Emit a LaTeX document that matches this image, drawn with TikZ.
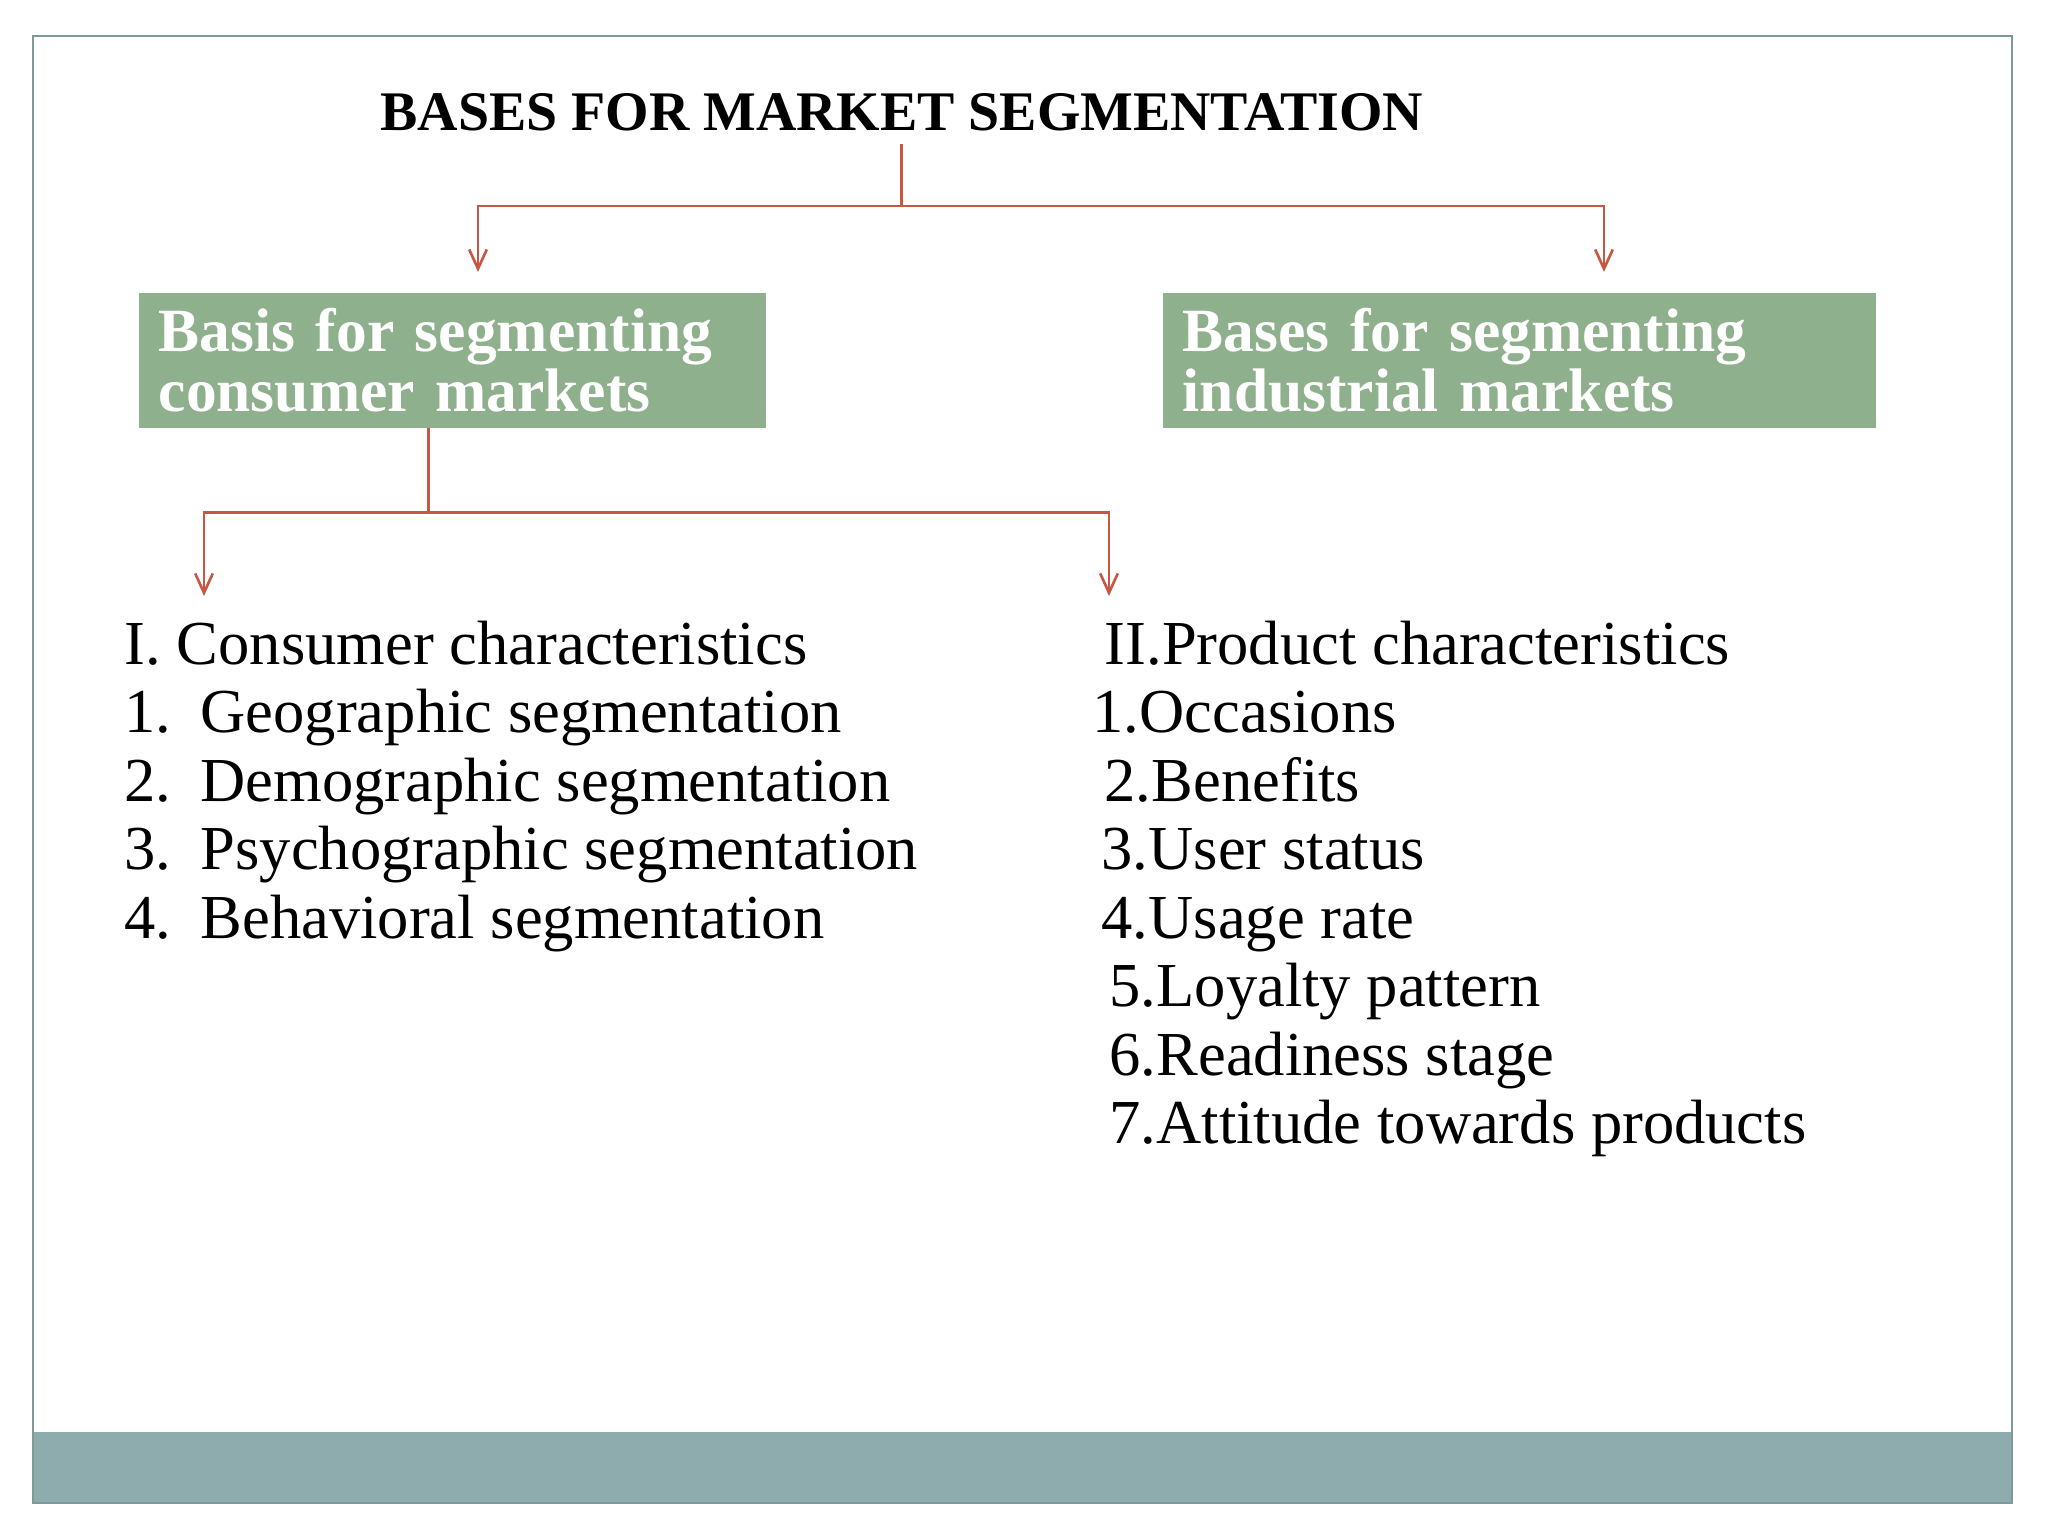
\documentclass[tikz,border=0pt]{standalone}
\usepackage{fontspec}
\setmainfont{Liberation Serif}
\newfontfamily\boxfont[WordSpace=0.8]{Liberation Serif}
\usetikzlibrary{arrows.meta}
\usetikzlibrary{positioning,calc}
\definecolor{linkred}{HTML}{C75742}
\definecolor{boxgreen}{HTML}{8FB08C}
\definecolor{framegray}{HTML}{7D9A96}
\definecolor{barteal}{HTML}{8EABAD}
\tikzset{
    link/.style={
        draw=linkred,
        line width=0.75pt
    },
    down/.style={
        link,
        -{Straight Barb[length=5.5pt, width=5pt]}
    },
    basebox/.style={
        fill=boxgreen,
        text=white,
        font=\boxfont\fontsize{17.5}{17}\selectfont\bfseries,
        align=left,
        anchor=north west,
        minimum height=1.35cm,
        inner xsep=0.2cm,
        inner ysep=0pt
    },
    listtext/.style={
        font=\fontsize{17.8}{19.5}\selectfont,
        anchor=base west,
        inner sep=0pt
    }
}

\begin{document}
\begin{tikzpicture}
  \useasboundingbox (0,0) rectangle (20.48,-15.36);
  % Slide frame and footer bar
  \fill[white] (0,0) rectangle (20.48,-15.36);
  \fill[barteal] (0.33,-14.32) rectangle (20.12,-15.03);
  \draw[framegray, line width=0.8pt] (0.33,-0.36) rectangle (20.12,-15.03);

  % Title
  \node[anchor=base west, font=\fontsize{15.9}{18}\selectfont\bfseries] (title) at (3.68,-1.31) {BASES FOR MARKET SEGMENTATION};

  % Two bases
  \node[basebox, text width=5.87cm] (consumer) at (1.38,-2.92) {Basis for segmenting\\consumer markets};
  \node[basebox, text width=6.73cm] (industrial) at (11.62,-2.92) {Bases for segmenting\\industrial markets};

  \coordinate (consumerIn) at (4.78,-2.72);
  \coordinate (industrialIn) at (16.04,-2.72);
  \draw[down] (title.south) -- ++(0,-0.62) -| (consumerIn);
  \draw[down] (title.south) -- ++(0,-0.62) -| (industrialIn);

  % Characteristics lists
  \node[listtext] (consumerChars) at (1.24,-6.64) {%
    \begin{tabular}[t]{@{}p{0.76cm}@{}l@{}}
      \multicolumn{2}{@{}l@{}}{I. Consumer characteristics}\\
      1. & Geographic segmentation\\
      2. & Demographic segmentation\\
      3. & Psychographic segmentation\\
      4. & Behavioral segmentation
    \end{tabular}};
  \node[listtext] (productChars) at (11.04,-6.64) {%
    \begin{tabular}[t]{@{}l@{}}
      II.Product characteristics\\
      \hspace*{-0.12cm}1.Occasions\\
      2.Benefits\\
      \hspace*{-0.03cm}3.User status\\
      \hspace*{-0.03cm}4.Usage rate\\
      \hspace*{0.05cm}5.Loyalty pattern\\
      \hspace*{0.05cm}6.Readiness stage\\
      \hspace*{0.05cm}7.Attitude towards products
    \end{tabular}};

  \coordinate (consumerListIn) at (2.04,-5.96);
  \coordinate (productListIn) at (11.09,-5.96);
  \draw[down] ([xshift=-0.24cm]consumer.south) -- ++(0,-0.84) -| (consumerListIn);
  \draw[down] ([xshift=-0.24cm]consumer.south) -- ++(0,-0.84) -| (productListIn);
\end{tikzpicture}
\end{document}
